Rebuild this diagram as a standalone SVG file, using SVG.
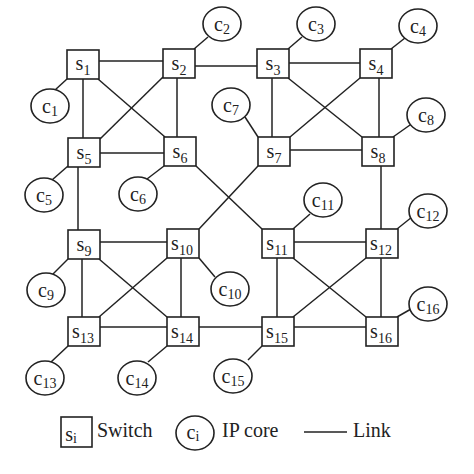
<svg xmlns="http://www.w3.org/2000/svg" width="474" height="474" viewBox="0 0 474 474">
<style>
.sw{fill:#fff;stroke:#222;stroke-width:1.6}
.ip{fill:#fff;stroke:#222;stroke-width:1.6}
.ln{stroke:#222;stroke-width:1.5;fill:none}
text{font-family:'Liberation Serif','Times New Roman',serif;font-size:20px;fill:#222;text-anchor:middle}
.sub{font-size:14px}
.lg{text-anchor:start}
</style>
<rect width="474" height="474" fill="#fff"/>
<g id="links" class="ln">
<line x1="99" y1="61" x2="163" y2="61"/>
<line x1="195" y1="66" x2="257" y2="66"/>
<line x1="289" y1="63" x2="360" y2="63"/>
<line x1="83" y1="79" x2="83" y2="138"/>
<line x1="177" y1="78" x2="177" y2="137"/>
<line x1="98" y1="79" x2="165" y2="137"/>
<line x1="163" y1="77" x2="100" y2="139"/>
<line x1="100" y1="153" x2="164" y2="153"/>
<line x1="272" y1="78" x2="272" y2="137"/>
<line x1="379" y1="78" x2="379" y2="137"/>
<line x1="288" y1="78" x2="362" y2="137"/>
<line x1="360" y1="78" x2="290" y2="137"/>
<line x1="290" y1="150" x2="362" y2="150"/>
<line x1="78" y1="167" x2="78" y2="230"/>
<line x1="381" y1="166" x2="381" y2="229"/>
<line x1="196" y1="166" x2="262" y2="229"/>
<line x1="258" y1="166" x2="199" y2="229"/>
<line x1="100" y1="242" x2="167" y2="242"/>
<line x1="294" y1="242" x2="366" y2="242"/>
<line x1="82" y1="259" x2="82" y2="317"/>
<line x1="181" y1="258" x2="181" y2="317"/>
<line x1="99" y1="259" x2="167" y2="317"/>
<line x1="167" y1="258" x2="99" y2="317"/>
<line x1="99" y1="327" x2="167" y2="327"/>
<line x1="199" y1="327" x2="262" y2="327"/>
<line x1="294" y1="327" x2="366" y2="327"/>
<line x1="277" y1="258" x2="277" y2="317"/>
<line x1="381" y1="258" x2="381" y2="317"/>
<line x1="293" y1="258" x2="366" y2="317"/>
<line x1="366" y1="258" x2="293" y2="317"/>
<line x1="67" y1="79" x2="55" y2="90"/>
<line x1="194" y1="49" x2="208" y2="37"/>
<line x1="288" y1="49" x2="302" y2="37"/>
<line x1="391" y1="49" x2="405" y2="38"/>
<line x1="68" y1="166" x2="52" y2="180"/>
<line x1="164" y1="166" x2="147" y2="179"/>
<line x1="245" y1="117" x2="258" y2="137"/>
<line x1="393" y1="137" x2="410" y2="125"/>
<line x1="68" y1="259" x2="53" y2="274"/>
<line x1="199" y1="258" x2="215" y2="277"/>
<line x1="293" y1="229" x2="310" y2="214"/>
<line x1="397" y1="229" x2="412" y2="217"/>
<line x1="68" y1="346" x2="51" y2="362"/>
<line x1="167" y1="346" x2="148" y2="362"/>
<line x1="262" y1="346" x2="248" y2="360"/>
<line x1="397" y1="317" x2="411" y2="309"/>
</g>
<g id="s1"><rect class="sw" x="67" y="50" width="32" height="29"/><text x="83" y="70">s<tspan class="sub" dy="5">1</tspan></text></g>
<g id="s2"><rect class="sw" x="163" y="49" width="32" height="29"/><text x="179" y="70">s<tspan class="sub" dy="5">2</tspan></text></g>
<g id="s3"><rect class="sw" x="257" y="49" width="32" height="29"/><text x="273" y="70">s<tspan class="sub" dy="5">3</tspan></text></g>
<g id="s4"><rect class="sw" x="360" y="49" width="32" height="29"/><text x="376" y="70">s<tspan class="sub" dy="5">4</tspan></text></g>
<g id="s5"><rect class="sw" x="68" y="138" width="32" height="29"/><text x="84" y="159">s<tspan class="sub" dy="5">5</tspan></text></g>
<g id="s6"><rect class="sw" x="164" y="137" width="32" height="29"/><text x="180" y="158">s<tspan class="sub" dy="5">6</tspan></text></g>
<g id="s7"><rect class="sw" x="258" y="137" width="32" height="29"/><text x="274" y="158">s<tspan class="sub" dy="5">7</tspan></text></g>
<g id="s8"><rect class="sw" x="362" y="137" width="32" height="29"/><text x="378" y="158">s<tspan class="sub" dy="5">8</tspan></text></g>
<g id="s9"><rect class="sw" x="68" y="230" width="32" height="29"/><text x="84" y="251">s<tspan class="sub" dy="5">9</tspan></text></g>
<g id="s10"><rect class="sw" x="167" y="229" width="32" height="29"/><text x="182" y="250">s<tspan class="sub" dy="5">10</tspan></text></g>
<g id="s11"><rect class="sw" x="262" y="229" width="32" height="29"/><text x="277" y="250">s<tspan class="sub" dy="5">11</tspan></text></g>
<g id="s12"><rect class="sw" x="366" y="229" width="32" height="29"/><text x="381" y="250">s<tspan class="sub" dy="5">12</tspan></text></g>
<g id="s13"><rect class="sw" x="68" y="317" width="32" height="29"/><text x="83" y="338">s<tspan class="sub" dy="5">13</tspan></text></g>
<g id="s14"><rect class="sw" x="167" y="317" width="32" height="29"/><text x="182" y="338">s<tspan class="sub" dy="5">14</tspan></text></g>
<g id="s15"><rect class="sw" x="262" y="317" width="32" height="29"/><text x="277" y="338">s<tspan class="sub" dy="5">15</tspan></text></g>
<g id="s16"><rect class="sw" x="366" y="317" width="32" height="29"/><text x="381" y="338">s<tspan class="sub" dy="5">16</tspan></text></g>
<g id="c1"><ellipse class="ip" cx="50" cy="106" rx="19" ry="17"/><text x="50" y="113">c<tspan class="sub" dy="3">1</tspan></text></g>
<g id="c2"><ellipse class="ip" cx="222" cy="24" rx="19" ry="17"/><text x="222" y="31">c<tspan class="sub" dy="3">2</tspan></text></g>
<g id="c3"><ellipse class="ip" cx="316" cy="24" rx="19" ry="17"/><text x="316" y="31">c<tspan class="sub" dy="3">3</tspan></text></g>
<g id="c4"><ellipse class="ip" cx="418" cy="26" rx="19" ry="17"/><text x="418" y="33">c<tspan class="sub" dy="3">4</tspan></text></g>
<g id="c5"><ellipse class="ip" cx="44" cy="195" rx="19" ry="17"/><text x="44" y="202">c<tspan class="sub" dy="3">5</tspan></text></g>
<g id="c6"><ellipse class="ip" cx="138" cy="194" rx="19" ry="17"/><text x="138" y="201">c<tspan class="sub" dy="3">6</tspan></text></g>
<g id="c7"><ellipse class="ip" cx="231" cy="105" rx="19" ry="17"/><text x="231" y="112">c<tspan class="sub" dy="3">7</tspan></text></g>
<g id="c8"><ellipse class="ip" cx="426" cy="115" rx="19" ry="17"/><text x="426" y="122">c<tspan class="sub" dy="3">8</tspan></text></g>
<g id="c9"><ellipse class="ip" cx="46" cy="290" rx="19" ry="17"/><text x="46" y="297">c<tspan class="sub" dy="3">9</tspan></text></g>
<g id="c10"><ellipse class="ip" cx="230" cy="289" rx="19" ry="17"/><text x="230" y="296">c<tspan class="sub" dy="3">10</tspan></text></g>
<g id="c11"><ellipse class="ip" cx="323" cy="200" rx="19" ry="17"/><text x="323" y="207">c<tspan class="sub" dy="3">11</tspan></text></g>
<g id="c12"><ellipse class="ip" cx="428" cy="211" rx="19" ry="17"/><text x="428" y="218">c<tspan class="sub" dy="3">12</tspan></text></g>
<g id="c13"><ellipse class="ip" cx="45" cy="378" rx="19" ry="17"/><text x="45" y="385">c<tspan class="sub" dy="3">13</tspan></text></g>
<g id="c14"><ellipse class="ip" cx="137" cy="378" rx="19" ry="17"/><text x="137" y="385">c<tspan class="sub" dy="3">14</tspan></text></g>
<g id="c15"><ellipse class="ip" cx="233" cy="376" rx="19" ry="17"/><text x="233" y="383">c<tspan class="sub" dy="3">15</tspan></text></g>
<g id="c16"><ellipse class="ip" cx="428" cy="304" rx="19" ry="17"/><text x="428" y="311">c<tspan class="sub" dy="3">16</tspan></text></g>
<g id="legend">
<rect class="sw" x="61" y="417" width="31" height="30"/><text x="71" y="441">s<tspan class="sub" dy="2">i</tspan></text>
<text class="lg" x="97" y="437">Switch</text>
<ellipse class="ip" cx="195" cy="433" rx="19" ry="17"/><text x="193" y="439">c<tspan class="sub" dy="2">i</tspan></text>
<text class="lg" x="222" y="437">IP core</text>
<line class="ln" x1="304" y1="432" x2="347" y2="432"/>
<text class="lg" x="353" y="437">Link</text>
</g>
</svg>
